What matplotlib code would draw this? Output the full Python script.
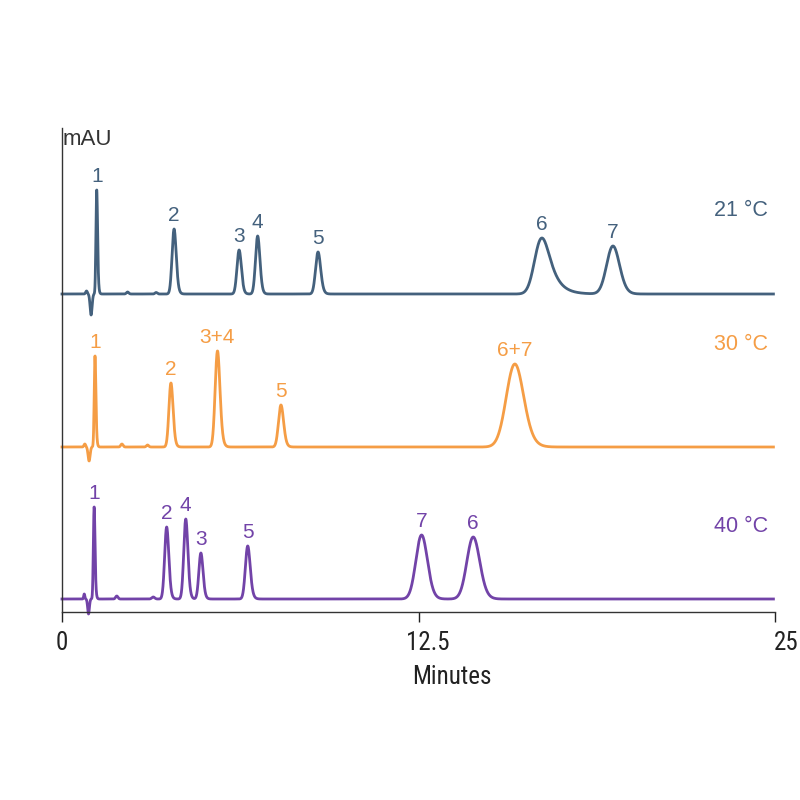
import numpy as np
import matplotlib.pyplot as plt
import matplotlib.transforms as mtransforms
from matplotlib import font_manager as fm

# pick fonts that exist in this environment
have = set(f.name for f in fm.fontManager.ttflist)
def pick(prefs):
    for p in prefs:
        if p in have:
            return p
    return 'DejaVu Sans'

sans = pick(['Liberation Sans', 'Arimo', 'Arial', 'Helvetica', 'Roboto'])
narrow = pick(['Liberation Sans Narrow', 'Arial Narrow', 'Roboto Condensed',
               'Archivo Narrow', 'PT Sans Narrow', 'Open Sans Condensed',
               'Pragati Narrow', 'Encode Sans Condensed', sans])
plt.rcParams['font.family'] = [sans, 'DejaVu Sans']

# peak tables: retention time (min), height, width (sigma), tailing (tau)
t21 = [1.22, 3.93, 6.21, 6.86, 8.98, 16.83, 19.32]
h21 = [104, 65, 44, 58, 42, 56, 48]
s21 = [0.025, 0.065, 0.07, 0.07, 0.08, 0.21, 0.21]
tau21 = [0.02, 0.04, 0.04, 0.04, 0.05, 0.3, 0.1]
lab21 = ['1', '2', '3', '4', '5', '6', '7']

t30 = [1.16, 3.82, 5.45, 7.68, 15.88]
h30 = [91, 64, 96, 42, 83]
s30 = [0.025, 0.065, 0.075, 0.08, 0.28]
tau30 = [0.02, 0.04, 0.05, 0.05, 0.15]
lab30 = ['1', '2', '3+4', '5', '6+7']

t40 = [1.13, 3.67, 4.34, 4.87, 6.51, 12.61, 14.42]
h40 = [92, 72, 80, 46, 53, 64, 62]
s40 = [0.025, 0.065, 0.065, 0.065, 0.075, 0.19, 0.21]
tau40 = [0.02, 0.04, 0.04, 0.04, 0.05, 0.08, 0.1]
lab40 = ['1', '2', '4', '3', '5', '7', '6']

# small features near the void volume (time, height, sigma)
blips21 = [(0.86, 3, 0.03), (1.02, -21, 0.035), (2.3, 2, 0.04), (3.3, 1.5, 0.04)]
blips30 = [(0.8, 3, 0.03), (0.95, -14, 0.035), (2.1, 3, 0.04), (3.0, 2, 0.04)]
blips40 = [(0.78, 5, 0.02), (0.93, -15, 0.03), (1.92, 3, 0.04), (3.2, 2, 0.05)]

temps = ['21 °C', '30 °C', '40 °C']
colors = ['#44617d', '#f59d45', '#7243a8']
offsets = [318, 165, 13]
temp_label_y = [402, 267, 85]

xticks = [0, 12.5, 25]
xticklabels = ['0', '12.5', '25']
xtick_shift_px = [0, 9, 11]

dt = 0.005
t = np.arange(0, 24.95, dt)


def peak(t0, h, sig, tau):
    g = np.exp(-0.5 * ((t - t0) / sig) ** 2)
    if tau > 0:
        k = np.exp(-np.arange(0, 8 * tau, dt) / tau)
        g = np.convolve(g, k)[:len(t)]
    g = g / g.max()
    shift = t[np.argmax(g)] - t0
    g = np.interp(t + shift, t, g)
    return h * g


fig = plt.figure(figsize=(8, 8), dpi=100)
ax = fig.add_axes([0.0775, 0.235, 0.89125, 0.605])

traces = [(t21, h21, s21, tau21, lab21, blips21),
          (t30, h30, s30, tau30, lab30, blips30),
          (t40, h40, s40, tau40, lab40, blips40)]

for i, (tt, hh, ss, tau, labs, blips) in enumerate(traces):
    y = np.zeros_like(t)
    for j in range(len(tt)):
        y += peak(tt[j], hh[j], ss[j], tau[j])
    for b in blips:
        y += b[1] * np.exp(-0.5 * ((t - b[0]) / b[2]) ** 2)
    ax.plot(t, y + offsets[i], color=colors[i], lw=2, clip_on=False)
    for j in range(len(tt)):
        ax.annotate(labs[j], xy=(tt[j], offsets[i] + hh[j]), xytext=(0, 3),
                    textcoords='offset points', ha='center', va='bottom',
                    fontsize=15, color=colors[i])
    ax.text(24.75, temp_label_y[i], temps[i], ha='right', va='center',
            fontsize=15.5, color=colors[i])

ax.set_xlim(0, 25)
ax.set_ylim(0, 484)
ax.set_xticks(xticks)
ax.set_xticklabels(xticklabels, family=[narrow, 'DejaVu Sans'])
ax.set_yticks([])
ax.tick_params(axis='x', length=7, width=1, labelsize=18, pad=7, colors='#222222')
for lbl, dx in zip(ax.get_xticklabels(), xtick_shift_px):
    lbl.set_transform(lbl.get_transform() +
                      mtransforms.ScaledTranslation(dx / 100, 0, fig.dpi_scale_trans))
for s in ['top', 'right']:
    ax.spines[s].set_visible(False)
for s in ['left', 'bottom']:
    ax.spines[s].set_color('#333333')
    ax.spines[s].set_linewidth(1)
ax.set_xlabel('Minutes', fontsize=18, family=[narrow, 'DejaVu Sans'],
              color='#222222')
ax.xaxis.set_label_coords(0.547, -0.11)
ax.text(0.001, 0.998, 'mAU', transform=ax.transAxes, ha='left', va='top',
        fontsize=16, color='#333333')

fig.savefig('out.png', dpi=100, facecolor='white')
